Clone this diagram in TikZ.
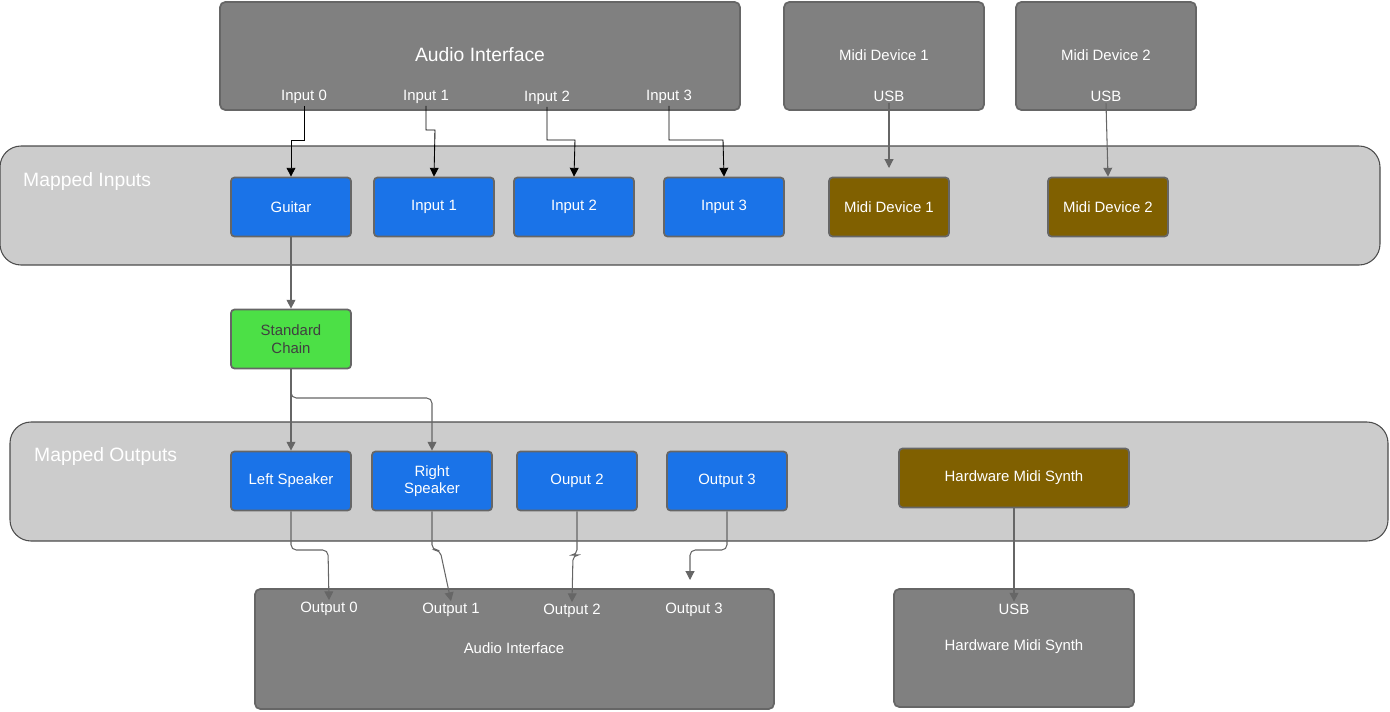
\documentclass[tikz,border=0pt]{standalone}
\usepackage{fontspec}
\setmainfont{Liberation Sans}
\usetikzlibrary{positioning, arrows.meta}
\definecolor{boxgray}{HTML}{808080}
\definecolor{bandgray}{HTML}{CCCCCC}
\definecolor{chanblue}{HTML}{1A73E8}
\definecolor{midibrown}{HTML}{806000}
\definecolor{chaingreen}{HTML}{4CE046}
\definecolor{edgegray}{HTML}{666666}
\tikzset{
  dev/.style={draw=edgegray, fill=boxgray, rounded corners=3pt, line width=1pt},
  band/.style={draw=black!70, fill=bandgray, rounded corners=12pt, line width=0.6pt},
  chan/.style={draw=edgegray, fill=chanblue, rounded corners=2pt, line width=1pt, text=white,
    minimum width=2.4cm, minimum height=1.18cm, align=center, font=\fontsize{8.5}{10}\selectfont},
  midi/.style={chan, fill=midibrown},
  port/.style={text=white, font=\fontsize{8.5}{10}\selectfont, inner sep=1pt},
  lbl/.style={text=white, font=\fontsize{11}{13}\selectfont},
  wire/.style={-{Triangle[length=5pt,width=5pt]}, black, line width=0.5pt},
  gwire/.style={-{Triangle[length=5pt,width=5pt]}, edgegray, line width=0.6pt, rounded corners=3pt}
}
\begin{document}
\begin{tikzpicture}[x=0.02cm, y=-0.02cm]
  \useasboundingbox (0,0) rectangle (1390,711);

  % device boxes on top
  \draw[dev] (220,2) rectangle (740,110);
  \node[lbl] (AI) at (480,55) {Audio Interface};
  \node[port] (I0) at (304,97) {Input 0};
  \node[port] (I1) at (426,97) {Input 1};
  \node[port] (I2) at (547,98) {Input 2};
  \node[port] (I3) at (669,97) {Input 3};
  \draw[dev] (784,2) rectangle (984,110);
  \node[port] at (884,55) {Midi Device 1};
  \node[port] (U1) at (889,96) {USB};
  \draw[dev] (1016,2) rectangle (1196,110);
  \node[port] at (1106,55) {Midi Device 2};
  \node[port] (U2) at (1106,96) {USB};

  % mapped inputs
  \draw[band] (0,146) rectangle (1380,265);
  \node[lbl, anchor=west] at (17,181) {Mapped Inputs};
  \node[chan] (G) at (291,207) {Guitar};
  \node[chan] (M1) at (434,207) {Input 1};
  \node[chan] (M2) at (574,207) {Input 2};
  \node[chan] (M3) at (724,207) {Input 3};
  \node[midi] (D1) at (889,207) {Midi Device 1};
  \node[midi] (D2) at (1108,207) {Midi Device 2};

  % chain
  \node[chan, fill=chaingreen, text=black!75] (SC) at (291,339) {Standard\\Chain};

  % mapped outputs
  \draw[band] (10,422) rectangle (1388,541);
  \node[lbl, anchor=west] at (28,456) {Mapped Outputs};
  \node[chan] (LS) at (291,481) {Left Speaker};
  \node[chan] (RS) at (432,481) {Right\\Speaker};
  \node[chan] (O2) at (577,481) {Ouput 2};
  \node[chan] (O3) at (727,481) {Output 3};
  \node[midi, minimum width=4.6cm] (HS) at (1014,478) {Hardware Midi Synth};

  % device boxes at bottom
  \draw[dev] (255,589) rectangle (774,709);
  \node[port] (P0) at (329,609) {Output 0};
  \node[port] (P1) at (451,610) {Output 1};
  \node[port] (P2) at (572,611) {Output 2};
  \node[port] (P3) at (694,610) {Output 3};
  \node[port] at (514,648) {Audio Interface};
  \draw[dev] (894,589) rectangle (1134,707);
  \node[port] (U3) at (1014,609) {USB};
  \node[port] at (1014,647) {Hardware Midi Synth};

  % inputs
  \draw[wire] (I0.south) |- (291,140) -- (G.north);
  \draw[wire] (I1.south) |- (435,130) -- (M1.north);
  \draw[wire] (I2.south) |- (575,140) -- (M2.north);
  \draw[wire] (I3.south) |- (723,140) -- (M3.north);
  \draw[gwire] (U1.south) -- (889,168);
  \draw[gwire] (U2.south) -- (D2.north);

  % chain
  \draw[gwire] (G) -- (SC);
  \draw[gwire] (SC) -- (LS);
  \draw[gwire] (SC.south) |- (432,398) -- (RS.north);

  % outputs
  \draw[gwire] (LS.south) |- (328,550) -- (P0.north);
  \draw[gwire] (RS.south) |- (440,550) -- (P1.north);
  \draw[gwire] (O2.south) |- (573,555) -- (P2.north);
  \draw[gwire] (O3.south) |- (690,550) -- (690,580);
  \draw[gwire] (HS.south) -- (U3.north);
\end{tikzpicture}
\end{document}
